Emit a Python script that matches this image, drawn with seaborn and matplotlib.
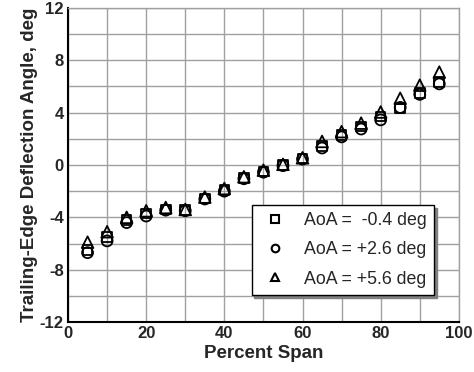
import matplotlib
matplotlib.use("Agg")
import matplotlib.pyplot as plt
from matplotlib.lines import Line2D
from matplotlib.ticker import MultipleLocator
import seaborn as sns
import pandas as pd

span = [5, 10, 15, 20, 25, 30, 35, 40, 45, 50, 55, 60, 65, 70, 75, 80, 85, 90, 95]
aoa_m04 = [-6.5, -5.5, -4.2, -3.7, -3.4, -3.45, -2.55, -1.9, -1.0, -0.5, 0.0, 0.5, 1.45, 2.3, 2.95, 3.7, 4.35, 5.5, 6.35]
aoa_p26 = [-6.7, -5.8, -4.4, -3.9, -3.45, -3.5, -2.6, -2.0, -1.05, -0.55, -0.05, 0.45, 1.3, 2.15, 2.75, 3.45, 4.4, 5.4, 6.2]
aoa_p56 = [-5.9, -5.1, -4.0, -3.5, -3.25, -3.4, -2.45, -1.8, -0.9, -0.4, 0.05, 0.55, 1.8, 2.55, 3.2, 4.05, 5.1, 6.1, 7.1]
labels = ["AoA =  -0.4 deg", "AoA = +2.6 deg", "AoA = +5.6 deg"]
markers = ["s", "o", "^"]

sns.set_style("white")
plt.rcParams['font.family'] = ['Liberation Sans', 'DejaVu Sans']
plt.rcParams['axes.unicode_minus'] = False

fig = plt.figure(figsize=(4.74, 3.72), dpi=100)
ax = fig.add_axes([0.1435, 0.1344, 0.8245, 0.8441])

series = [aoa_m04, aoa_p26, aoa_p56]
sizes = [48, 62, 70]
for vals, m, s in zip(series, markers, sizes):
    df = pd.DataFrame({"span": span, "angle": vals})
    sns.scatterplot(data=df, x="span", y="angle", marker=m, s=s, facecolor="none",
                    edgecolor="black", linewidth=1.3, ax=ax, zorder=3)

ax.set_xlim(0, 100)
ax.set_ylim(-12, 12)
ax.xaxis.set_major_locator(MultipleLocator(20))
ax.xaxis.set_minor_locator(MultipleLocator(10))
ax.yaxis.set_major_locator(MultipleLocator(4))
ax.yaxis.set_minor_locator(MultipleLocator(2))
ax.grid(True, which="both", color="#a0a0a0", linewidth=1.0)
ax.set_axisbelow(True)
ax.tick_params(which="both", direction="in", color="black", width=1.2)
ax.tick_params(which="major", length=5, labelsize=12, pad=3)
ax.tick_params(which="minor", length=4)
for lab in ax.get_xticklabels() + ax.get_yticklabels():
    lab.set_fontweight("bold")
for side in ["left", "bottom"]:
    ax.spines[side].set_color("black")
    ax.spines[side].set_linewidth(1.5)
for side in ["top", "right"]:
    ax.spines[side].set_color("#a0a0a0")
    ax.spines[side].set_linewidth(1.0)

ax.set_xlabel("Percent Span", fontsize=13.5, fontweight="bold", labelpad=3)
ax.set_ylabel("Trailing-Edge Deflection Angle, deg", fontsize=13.5, fontweight="bold", labelpad=1)

handles = [Line2D([], [], linestyle="", marker=m, markersize=5.5, markerfacecolor="none",
                  markeredgecolor="black", markeredgewidth=1.5) for m in markers]
leg = ax.legend(handles, labels, loc="lower left", bbox_to_anchor=(0.47, 0.086),
                frameon=True, fancybox=False, shadow={"color": "#808080", "alpha": 1},
                fontsize=12.8, handletextpad=0.7, labelspacing=0.68, borderpad=0.42,
                handlelength=1.8, borderaxespad=0)
leg.get_frame().set_edgecolor("black")
leg.get_frame().set_linewidth(1.0)

fig.savefig("out.png", dpi=100)
